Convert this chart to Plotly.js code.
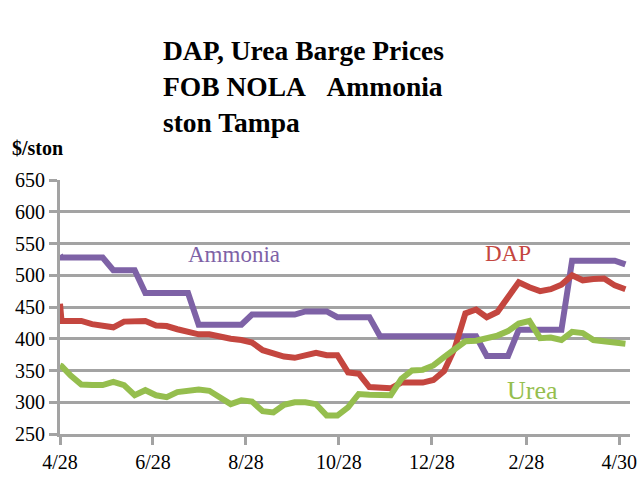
<!DOCTYPE html>
<html>
<head>
<meta charset="utf-8">
<script src="https://cdn.plot.ly/plotly-3.0.1.min.js"></script>
<style>
  html, body { margin: 0; padding: 0; background: #ffffff; font-family: 'Liberation Serif', serif; }
  #chart { width: 640px; height: 480px; }
</style>
</head>
<body>
<div id="chart"></div>
<script>
// Weekly price observations ($/short ton)
const weekDates = [
  '2012-04-28', '2012-04-29', '2012-05-05', '2012-05-12', '2012-05-19', '2012-05-26',
  '2012-06-02', '2012-06-09', '2012-06-16', '2012-06-23', '2012-06-30',
  '2012-07-07', '2012-07-14', '2012-07-21', '2012-07-28',
  '2012-08-04', '2012-08-11', '2012-08-18', '2012-08-25',
  '2012-09-01', '2012-09-08', '2012-09-15', '2012-09-22', '2012-09-29',
  '2012-10-06', '2012-10-13', '2012-10-20', '2012-10-27',
  '2012-11-03', '2012-11-10', '2012-11-17', '2012-11-24',
  '2012-12-01', '2012-12-08', '2012-12-15', '2012-12-22', '2012-12-29',
  '2013-01-05', '2013-01-12', '2013-01-19', '2013-01-26',
  '2013-02-02', '2013-02-09', '2013-02-16', '2013-02-23',
  '2013-03-02', '2013-03-09', '2013-03-16', '2013-03-23', '2013-03-30',
  '2013-04-06', '2013-04-13', '2013-04-20', '2013-04-27', '2013-05-04'
];

const ammonia = [
  532, 528, 528, 528, 528, 528,
  508, 508, 508, 472, 472,
  472, 472, 472, 422,
  422, 422, 422, 422,
  438, 438, 438, 438, 438,
  443, 443, 443, 434,
  434, 434, 434, 404,
  404, 404, 404, 404, 404,
  404, 404, 404, 404,
  373, 373, 373, 414,
  414, 414, 414, 414, 523,
  523, 523, 523, 523, 517
];

const dap = [
  455, 428, 428, 428, 423, 421,
  418, 427, 428, 428, 421,
  420, 415, 411, 407,
  407, 403, 400, 398,
  394, 382, 377, 372, 370,
  374, 378, 374, 374,
  347, 345, 324, 322,
  322, 331, 332, 331, 335,
  349, 385, 440, 446,
  434, 442, 465, 489,
  481, 475, 478, 485, 500,
  492, 494, 495, 484, 478
];

const urea = [
  358, 357, 342, 328, 327, 327,
  332, 327, 311, 319, 311,
  308, 316, 319, 320,
  318, 307, 297, 303,
  301, 286, 284, 296, 300,
  300, 297, 279, 279,
  292, 313, 312, 311,
  311, 337, 350, 351, 358,
  371, 383, 396, 397,
  400, 405, 412, 424,
  428, 401, 402, 398, 411,
  409, 398, 396, 394, 392
];

const tickDates = ['2012-04-28', '2012-06-28', '2012-08-28', '2012-10-28', '2012-12-28', '2013-02-28', '2013-04-30'];
const tickLabels = ['4/28', '6/28', '8/28', '10/28', '12/28', '2/28', '4/30'];

const SERIF = 'Liberation Serif';
const gridGray = '#A3A3A3';

function draw() {
  const traces = [
    { name: 'Ammonia', x: weekDates, y: ammonia, color: '#7E62A6' },
    { name: 'DAP', x: weekDates, y: dap, color: '#C4463F' },
    { name: 'Urea', x: weekDates, y: urea, color: '#95BE4E' }
  ].map(s => ({
    type: 'scatter',
    mode: 'lines',
    name: s.name,
    x: s.x,
    y: s.y,
    line: { color: s.color, width: 6, shape: 'linear' },
    hoverinfo: 'x+y+name'
  }));

  const axisCommon = {
    zeroline: false,
    showline: true,
    linecolor: gridGray,
    linewidth: 3,
    ticks: 'outside',
    ticklen: 8,
    tickwidth: 3,
    tickcolor: gridGray,
    tickfont: { family: SERIF, size: 20, color: '#000000' },
    fixedrange: true
  };

  const label = (text, px, py, size, color) => ({
    text: text,
    xref: 'paper', yref: 'paper',
    x: (px - 60) / 570, y: (434 - py) / 254,
    xanchor: 'left', yanchor: 'middle',
    showarrow: false,
    font: { family: SERIF, size: size, color: color }
  });

  const layout = {
    width: 640,
    height: 480,
    font: { family: SERIF, color: '#000000' },
    paper_bgcolor: '#ffffff',
    plot_bgcolor: '#ffffff',
    showlegend: false,
    margin: { l: 60, r: 10, t: 180, b: 46 },
    title: {
      text: '<b>DAP, Urea Barge Prices<br>FOB NOLA\u00A0\u00A0\u00A0Ammonia<br>ston Tampa</b>',
      font: { family: SERIF, size: 27.5, color: '#000000' },
      xref: 'container', yref: 'container',
      x: 163 / 640, xanchor: 'left',
      y: 1 - 60 / 480, yanchor: 'top'
    },
    xaxis: Object.assign({
      type: 'date',
      range: ['2012-04-28', '2013-05-07'],
      tickmode: 'array',
      tickvals: tickDates,
      ticktext: tickLabels,
      showgrid: false
    }, axisCommon),
    yaxis: Object.assign({
      range: [250, 650],
      tickmode: 'linear',
      tick0: 250,
      dtick: 50,
      showgrid: true,
      gridcolor: gridGray,
      gridwidth: 3
    }, axisCommon),
    annotations: [
      label('<b>$/ston</b>', 10, 148, 20, '#000000'),
      label('Ammonia', 186, 254, 23, '#7E62A6'),
      label('DAP', 483, 253, 23, '#C4463F'),
      label('Urea', 505, 390, 26, '#95BE4E')
    ]
  };

  Plotly.newPlot('chart', traces, layout, { staticPlot: true, displayModeBar: false });
}

// make sure the serif face is ready before the SVG text is laid out
Promise.all([
  document.fonts.load('20px "Liberation Serif"'),
  document.fonts.load('bold 20px "Liberation Serif"')
]).then(draw, draw);
</script>
</body>
</html>
